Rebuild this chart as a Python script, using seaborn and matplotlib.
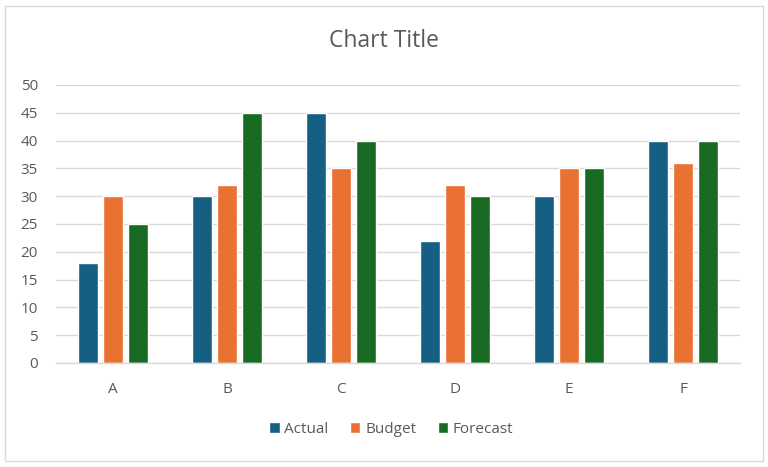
import matplotlib
matplotlib.use("Agg")
import matplotlib.pyplot as plt
import pandas as pd
import seaborn as sns
from matplotlib.patches import Rectangle

# --------------------- data ---------------------
categories = ["A", "B", "C", "D", "E", "F"]
actual = [18, 30, 45, 22, 30, 40]
budget = [30, 32, 35, 32, 35, 36]
forecast = [25, 45, 40, 30, 35, 40]
series_names = ["Actual", "Budget", "Forecast"]
colors = ["#156082", "#E97132", "#196B24"]

df = pd.DataFrame({"cat": categories, "Actual": actual, "Budget": budget, "Forecast": forecast})
df = df.melt(id_vars="cat", var_name="series", value_name="value")

# --------------------- style ---------------------
sns.set_theme(style="white")
plt.rcParams["font.family"] = ["Open Sans", "DejaVu Sans"]
text_col = "#595959"
grid_col = "#D9D9D9"

fig = plt.figure(figsize=(7.68, 4.67), dpi=100)
ax = fig.add_axes([0.0729, 0.2227, 0.8906, 0.5953])

sns.barplot(data=df, x="cat", y="value", hue="series", hue_order=series_names,
            palette=colors, width=0.66, gap=0.2, ax=ax, legend=True,
            saturation=1, errorbar=None)

ax.set_xlim(-0.5, 5.5)
ax.set_ylim(0, 50)
ax.set_yticks(range(0, 51, 5))
ax.yaxis.grid(True, color=grid_col, linewidth=1)
ax.set_axisbelow(True)
for s in ["top", "right", "left"]:
    ax.spines[s].set_visible(False)
ax.spines["bottom"].set_color(grid_col)
ax.spines["bottom"].set_linewidth(1)
ax.tick_params(axis="both", length=0, labelsize=11, colors=text_col)
ax.tick_params(axis="x", pad=14)
ax.tick_params(axis="y", pad=13)
ax.set_xlabel("")
ax.set_ylabel("")

fig.suptitle("Chart Title", x=0.5, y=0.937, fontsize=16.5, color=text_col)

leg = ax.legend(loc="center", bbox_to_anchor=(0.49, -0.238), ncol=3, frameon=False,
                fontsize=11, handlelength=0.7, handleheight=0.7, handletextpad=0.3,
                columnspacing=1.4)
for t in leg.get_texts():
    t.set_color(text_col)

fig.patches.append(Rectangle((0.006, 0.012), 0.988, 0.976, transform=fig.transFigure,
                             fill=False, edgecolor=grid_col, linewidth=1))

fig.savefig("out.png", dpi=100)
plt.close()
